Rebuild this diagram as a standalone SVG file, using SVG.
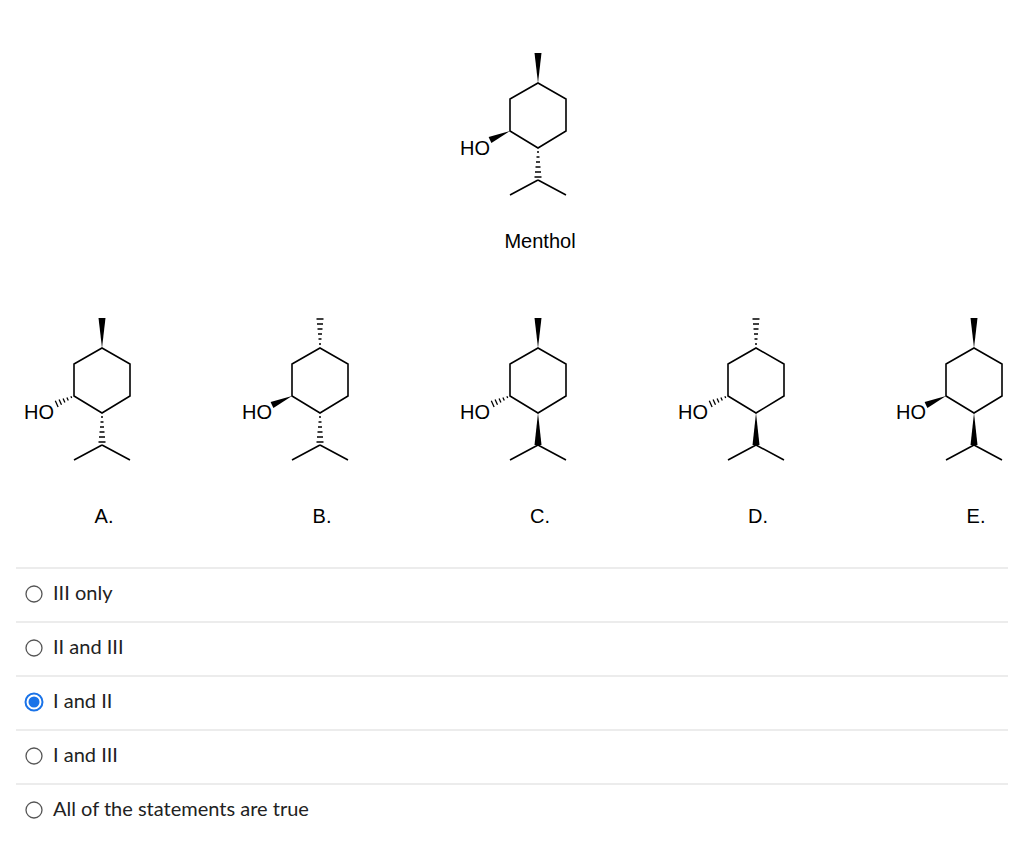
<svg xmlns="http://www.w3.org/2000/svg" xmlns:xlink="http://www.w3.org/1999/xlink" width="1024" height="864" viewBox="0 0 1024 864">
<style>
.b{fill:none;stroke:#000;stroke-width:1.6}
.h{fill:none;stroke:#000;stroke-width:1.3}
.w{fill:#000}
.lab{font-family:"Liberation Sans",Arial,sans-serif;font-size:20px;fill:#000}
.opt{font-family:Lato,"Liberation Sans",sans-serif;font-size:20px;fill:#222}
.sep{stroke:#d9d9d9;stroke-width:1}
.rad{fill:#fff;stroke:#555;stroke-width:1.3}
</style>
<defs>
<path id="ring" class="b" d="M0,0 L28,16 L28,48 L0,65 L-28,48 L-28,16 Z M0,97 L-28,112 M0,97 L28,112"/>
<path id="mW" class="w" d="M0,0 L-3.5,-30 L3.5,-30 Z"/>
<path id="mH" class="h" d="M-1,-4H1 M-1.5,-9H1.5 M-2,-14H2 M-2.5,-19H2.5 M-3,-24H3 M-3.5,-29H3.5"/>
<path id="iW" class="w" d="M0,65 L-3.5,97 L3.5,97 Z"/>
<path id="iH" class="h" d="M-1,69H1 M-1.5,74H1.5 M-2,79H2 M-2.5,84H2.5 M-3,89H3 M-3.5,94H3.5"/>
<path id="oW" class="w" d="M-28,48 L-46.6,60.1 L-49.4,53.9 Z"/>
<path id="oH" class="h" d="M-31.1,48.3L-30.3,50.1 M-35.1,49.4L-33.7,52.4 M-38.9,50.5L-37.1,54.5 M-42.9,51.6L-40.5,56.8 M-46.7,52.7L-43.9,58.9"/>
</defs>
<rect width="1024" height="864" fill="#fff"/>
<g id="menthol" transform="translate(538,83)">
<use xlink:href="#ring"/><use xlink:href="#mW"/><use xlink:href="#iH"/><use xlink:href="#oW"/>
<text class="lab" x="-48" y="72" text-anchor="end">HO</text>
<text class="lab" x="2" y="165" text-anchor="middle">Menthol</text>
</g>
<g id="optA" transform="translate(102,348)">
<use xlink:href="#ring"/><use xlink:href="#mW"/><use xlink:href="#iH"/><use xlink:href="#oH"/>
<text class="lab" x="-48" y="71" text-anchor="end">HO</text>
<text class="lab" x="2" y="175" text-anchor="middle">A.</text>
</g>
<g id="optB" transform="translate(320,348)">
<use xlink:href="#ring"/><use xlink:href="#mH"/><use xlink:href="#iH"/><use xlink:href="#oW"/>
<text class="lab" x="-48" y="71" text-anchor="end">HO</text>
<text class="lab" x="2" y="175" text-anchor="middle">B.</text>
</g>
<g id="optC" transform="translate(538,348)">
<use xlink:href="#ring"/><use xlink:href="#mW"/><use xlink:href="#iW"/><use xlink:href="#oH"/>
<text class="lab" x="-48" y="71" text-anchor="end">HO</text>
<text class="lab" x="2" y="175" text-anchor="middle">C.</text>
</g>
<g id="optD" transform="translate(756,348)">
<use xlink:href="#ring"/><use xlink:href="#mH"/><use xlink:href="#iW"/><use xlink:href="#oH"/>
<text class="lab" x="-48" y="71" text-anchor="end">HO</text>
<text class="lab" x="2" y="175" text-anchor="middle">D.</text>
</g>
<g id="optE" transform="translate(974,348)">
<use xlink:href="#ring"/><use xlink:href="#mW"/><use xlink:href="#iW"/><use xlink:href="#oW"/>
<text class="lab" x="-48" y="71" text-anchor="end">HO</text>
<text class="lab" x="2" y="175" text-anchor="middle">E.</text>
</g>
<g id="connectors"></g>
<g id="answers">
<line class="sep" x1="16" y1="568" x2="1008" y2="568"/>
<line class="sep" x1="16" y1="622" x2="1008" y2="622"/>
<line class="sep" x1="16" y1="676" x2="1008" y2="676"/>
<line class="sep" x1="16" y1="730" x2="1008" y2="730"/>
<line class="sep" x1="16" y1="784" x2="1008" y2="784"/>
<circle class="rad" cx="34" cy="594" r="8"/>
<circle class="rad" cx="34" cy="648" r="8"/>
<circle cx="34" cy="702" r="8.5" fill="#fff" stroke="#1a73e8" stroke-width="2"/>
<circle cx="34" cy="702" r="5.5" fill="#1a73e8"/>
<circle class="rad" cx="34" cy="756" r="8"/>
<circle class="rad" cx="34" cy="810" r="8"/>
<text class="opt" x="53" y="600">III only</text>
<text class="opt" x="53" y="654">II and III</text>
<text class="opt" x="53" y="708">I and II</text>
<text class="opt" x="53" y="762">I and III</text>
<text class="opt" x="53" y="816">All of the statements are true</text>
</g>
</svg>
